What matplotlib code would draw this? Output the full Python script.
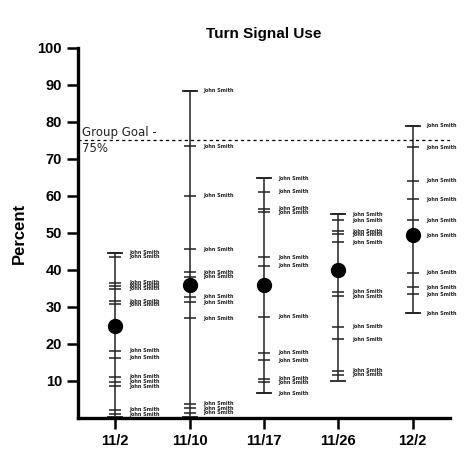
import matplotlib.pyplot as plt
import numpy as np

# values
dates = ["11/2", "11/10", "11/17", "11/26", "12/2"]
means = [24.9, 35.9, 35.9, 40.0, 49.5]
lows = [0.4, 0.4, 6.7, 10.0, 28.3]
highs = [44.7, 88.4, 64.8, 55.0, 79.0]

scores_1102 = [44.7, 43.6, 36.6, 35.8, 34.9, 31.6, 30.8, 18.2, 16.3, 11.2, 9.8, 8.6, 2.2, 1.0]
scores_1110 = [88.4, 73.5, 60.0, 45.6, 39.4, 38.2, 32.8, 31.3, 27.0, 3.8, 2.6, 1.4]
scores_1117 = [64.8, 61.2, 56.5, 55.6, 43.5, 41.1, 27.4, 17.6, 15.6, 10.6, 9.7, 6.7]
scores_1126 = [55.0, 53.5, 50.5, 49.6, 47.5, 34.1, 32.9, 24.7, 21.3, 12.8, 11.7]
scores_1202 = [79.0, 73.2, 64.1, 59.1, 53.5, 49.3, 39.3, 35.3, 33.5, 28.3]
all_scores = [scores_1102, scores_1110, scores_1117, scores_1126, scores_1202]

student = "John Smith"
goal = 75

plt.rcParams["font.family"] = ["Liberation Sans", "DejaVu Sans"]

fig = plt.figure(figsize=(4.74, 4.75), dpi=100)
ax = fig.add_axes([0.1646, 0.12, 0.7844, 0.779])

x = np.arange(len(dates))
means = np.array(means)
yerr = [means - np.array(lows), np.array(highs) - means]

ax.errorbar(x, means, yerr=yerr, fmt="none", ecolor="#333333", elinewidth=1.2,
            capsize=6, capthick=1.4)

for xi, scores in zip(x, all_scores):
    ax.plot([xi] * len(scores), scores, ls="none", marker="_", ms=8,
            mew=1.1, color="#222222")
    for s in scores:
        ax.annotate(student, (xi, s), xytext=(10, 0), textcoords="offset points",
                    va="center", ha="left", fontsize=3.6, color="#222222",
                    family="DejaVu Sans", weight="bold")

ax.plot(x, means, ls="none", marker="o", ms=10, color="black", zorder=5)

ax.axhline(goal, color="black", ls=(0, (2.5, 2.5)), lw=0.9)
ax.text(-0.45, goal, "Group Goal -\n75%", ha="left", va="center",
        fontsize=8.5, family="DejaVu Sans", linespacing=1.3, color="#222222")

ax.set_xlim(-0.5, 4.5)
ax.set_ylim(0, 100)
ax.set_yticks(np.arange(10, 101, 10))
ax.set_xticks(x)
ax.set_xticklabels(dates)
ax.tick_params(axis="both", direction="out", length=8, width=1.8,
               labelsize=10.5)
for lab in ax.get_xticklabels() + ax.get_yticklabels():
    lab.set_fontweight("bold")

ax.spines["top"].set_visible(False)
ax.spines["right"].set_visible(False)
ax.spines["left"].set_linewidth(2.4)
ax.spines["bottom"].set_linewidth(2.4)

ax.set_ylabel("Percent", fontsize=12, fontweight="bold", labelpad=8)
ax.set_title("Turn Signal Use", fontsize=11, fontweight="bold", pad=7)

fig.savefig("out.png", dpi=100)
